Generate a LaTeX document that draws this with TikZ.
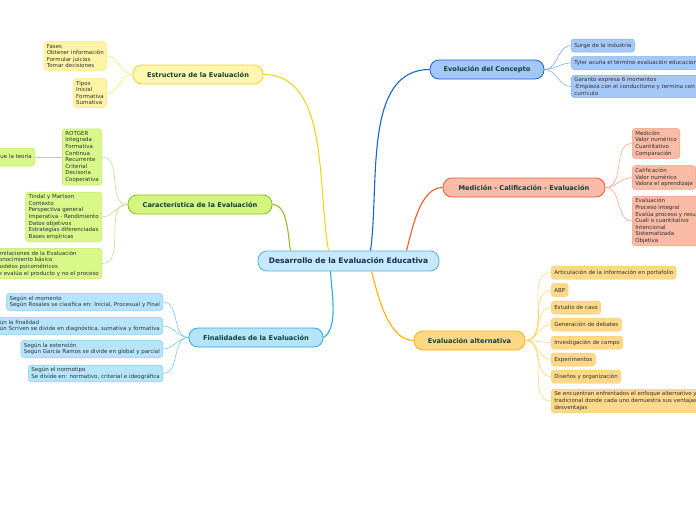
\documentclass[tikz,border=0pt]{standalone}
\usepackage{fontspec}
\setmainfont{DejaVu Sans}
\usetikzlibrary{positioning}

\definecolor{rootFill}{HTML}{C6E9FB}
\definecolor{rootDraw}{HTML}{5AAEE3}
\definecolor{rootText}{HTML}{1B2A4E}
\definecolor{branchText}{HTML}{123F3A}
\definecolor{leafText}{HTML}{303030}
% branch colours
\definecolor{estrFill}{HTML}{FFF6B0}
\definecolor{estrDraw}{HTML}{F0D51E}
\definecolor{estrLeaf}{HTML}{FFF3A6}
\definecolor{estrLeafDraw}{HTML}{FBE684}
\definecolor{caracFill}{HTML}{D4F57F}
\definecolor{caracDraw}{HTML}{8CC21E}
\definecolor{caracLeaf}{HTML}{D8F88A}
\definecolor{caracLeafDraw}{HTML}{BEEA66}
\definecolor{finalFill}{HTML}{B3E4FA}
\definecolor{finalDraw}{HTML}{2AAAE8}
\definecolor{finalLeaf}{HTML}{B6E5FB}
\definecolor{finalLeafDraw}{HTML}{7ECDF2}
\definecolor{evolFill}{HTML}{A3C8F8}
\definecolor{evolDraw}{HTML}{1664D6}
\definecolor{evolLeaf}{HTML}{A6C8F8}
\definecolor{evolLeafDraw}{HTML}{7AAEEF}
\definecolor{mediFill}{HTML}{F9BCA8}
\definecolor{mediDraw}{HTML}{F05A28}
\definecolor{mediLeaf}{HTML}{F9BBA6}
\definecolor{mediLeafDraw}{HTML}{F5A083}
\definecolor{altFill}{HTML}{FFD887}
\definecolor{altDraw}{HTML}{FFB300}
\definecolor{altLeaf}{HTML}{FFD98A}
\definecolor{altLeafDraw}{HTML}{FFCB62}

\begin{document}
\begin{tikzpicture}[
    x=1pt, y=1pt,
    root/.style={rectangle, rounded corners=9pt, draw=rootDraw, fill=rootFill, line width=0.8pt, minimum height=20pt, minimum width=181pt, inner xsep=3pt, font=\fontsize{7.5}{8}\selectfont\bfseries, text=rootText},
    branch/.style={rectangle, rounded corners=9pt, line width=0.8pt, minimum height=19pt, inner xsep=3pt, font=\fontsize{6.6}{7}\selectfont\bfseries, text=branchText},
    leaf/.style={rectangle, rounded corners=3pt, line width=0.5pt, inner xsep=3pt, inner ysep=2.4pt, minimum height=13pt, align=left, font=\fontsize{5.5}{6.6}\selectfont, text=leafText},
    estrbox/.style={branch, fill=estrFill, draw=estrDraw},
    estrleaf/.style={leaf, fill=estrLeaf, draw=estrLeafDraw},
    caracbox/.style={branch, fill=caracFill, draw=caracDraw},
    caracleaf/.style={leaf, fill=caracLeaf, draw=caracLeafDraw},
    finalbox/.style={branch, fill=finalFill, draw=finalDraw},
    finalleaf/.style={leaf, fill=finalLeaf, draw=finalLeafDraw},
    evolbox/.style={branch, fill=evolFill, draw=evolDraw},
    evolleaf/.style={leaf, fill=evolLeaf, draw=evolLeafDraw},
    medibox/.style={branch, fill=mediFill, draw=mediDraw},
    medileaf/.style={leaf, fill=mediLeaf, draw=mediLeafDraw},
    altbox/.style={branch, fill=altFill, draw=altDraw},
    altleaf/.style={leaf, fill=altLeaf, draw=altLeafDraw},
    mainline/.style={line width=1.1pt},
    leafline/.style={line width=0.5pt}
]
\useasboundingbox (0,0) rectangle (696,-520);

% Central topic
\node[root] (root) at (348.5,-261) {Desarrollo de la Evaluación Educativa};

% Main branches
\node[estrbox, minimum width=130pt] (estr) at (198,-74.5) {Estructura de la Evaluación};
\node[caracbox, minimum width=144pt] (carac) at (200,-204.5) {Característica de la Evaluación};
\node[finalbox, minimum width=134pt] (final) at (256,-337.5) {Finalidades de la Evaluación};
\node[evolbox, minimum width=114pt] (evol) at (487,-69.5) {Evolución del Concepto};
\node[medibox, minimum width=162pt] (medi) at (524,-187.5) {Medición - Calificación - Evaluación};
\node[altbox, minimum width=111pt] (alt) at (469.5,-340.5) {Evaluación alternativa};

% Estructura
\node[estrleaf, anchor=east] (estrA) at (107,-56) {Fases\\Obtener información\\Formular juicios\\Tomar decisiones};
\node[estrleaf, anchor=east] (estrB) at (107,-93) {Tipos\\Inicial\\Formativa\\Sumativa};

% Caracteristica
\node[caracleaf, anchor=east] (caracA) at (102,-157) {ROTGER\\Integrada\\Formativa\\Continua\\Recurrente\\Criterial\\Decisoria\\Cooperativa};
\node[caracleaf, anchor=east, minimum height=18pt] (teoria) at (35,-157) {que la teoría};
\node[caracleaf, anchor=east] (caracB) at (102,-217) {Tindal y Martson\\Contexto\\Perspectiva general\\Imperativa - Rendimiento\\Datos objetivos\\Estrategias diferenciadas\\Bases empíricas};
\node[caracleaf, anchor=east] (caracC) at (102,-263.5) {Limitaciones de la Evaluación\\Conocimiento básico\\Modelos psicométricos\\Se evalúa el producto y no el proceso};

% Finalidades
\node[finalleaf, anchor=east] (finalA) at (163,-302) {Según el momento\\Según Rosales se clasifica en: Inicial, Procesual y Final};
\node[finalleaf, anchor=east] (finalB) at (163,-326) {Según la finalidad\\Según Scriven se divide en diagnóstica, sumativa y formativa};
\node[finalleaf, anchor=east] (finalC) at (163,-349) {Según la extensión\\Según García Ramos se divide en global y parcial};
\node[finalleaf, anchor=east] (finalD) at (163,-373.5) {Según el normotipo\\Se divide en: normativo, criterial e ideográfica};

% Evolucion
\node[evolleaf, anchor=west] (evolA) at (571,-45.5) {Surge de la industria};
\node[evolleaf, anchor=west] (evolB) at (571,-63) {Tyler acuña el término evaluación educacional};
\node[evolleaf, anchor=west] (evolC) at (571,-86.5) {Garanto expresa 6 momentos\\-Empieza con el conductismo y termina con el\\currículo};

% Medicion
\node[medileaf, anchor=west] (mediA) at (632,-143.5) {Medición\\Valor numérico\\Cuantitativo\\Comparación};
\node[medileaf, anchor=west] (mediB) at (632,-177.5) {Calificación\\Valor numérico\\Valora el aprendizaje};
\node[medileaf, anchor=west] (mediC) at (632,-221) {Evaluación\\Proceso integral\\Evalúa proceso y resultados\\Cuali o cuantitativo\\Intencional\\Sistematizada\\Objetiva};

% Evaluacion alternativa
\node[altleaf, anchor=west] (altA) at (551,-272.5) {Articulación de la información en portafolio};
\node[altleaf, anchor=west] (altB) at (551,-290) {ABP};
\node[altleaf, anchor=west] (altC) at (551,-307.5) {Estudio de caso};
\node[altleaf, anchor=west] (altD) at (551,-324.5) {Generación de debates};
\node[altleaf, anchor=west] (altE) at (551,-342.5) {Investigación de campo};
\node[altleaf, anchor=west] (altF) at (551,-359.5) {Experimentos};
\node[altleaf, anchor=west] (altG) at (551,-376.5) {Diseños y organización};
\node[altleaf, anchor=west] (altH) at (551,-401) {Se encuentran enfrentados el enfoque alternativo y\\tradicional donde cada uno demuestra sus ventajas y\\desventajas};

% Main connectors
\draw[mainline, draw=caracDraw] ([xshift=-58pt]root.north) to[out=100, in=0, looseness=0.8] (carac.east);
\draw[mainline, draw=estrDraw] ([xshift=-20pt]root.north) to[out=100, in=0, looseness=0.9] (estr.east);
\draw[mainline, draw=evolDraw] ([xshift=22pt]root.north) to[out=82, in=180, looseness=0.9] (evol.west);
\draw[mainline, draw=mediDraw] ([xshift=58pt]root.north) to[out=75, in=180, looseness=0.8] (medi.west);
\draw[mainline, draw=finalDraw] ([xshift=-18pt]root.south) to[out=-88, in=30, looseness=0.7] (final.east);
\draw[mainline, draw=altDraw] ([xshift=23pt]root.south) to[out=-75, in=180, looseness=0.8] (alt.west);

% Leaf connectors
\foreach \l in {estrA, estrB}
  \draw[leafline, draw=estrDraw!70] (estr.west) to[out=180, in=0] (\l.east);
\foreach \l in {caracA, caracB, caracC}
  \draw[leafline, draw=caracDraw!60] (carac.west) to[out=180, in=0] (\l.east);
\draw[leafline, draw=caracDraw!60] (caracA.west) -- (teoria.east);
\foreach \l in {finalA, finalB, finalC, finalD}
  \draw[leafline, draw=finalDraw!70] (final.west) to[out=180, in=0] (\l.east);
\foreach \l in {evolA, evolB, evolC}
  \draw[leafline, draw=evolDraw!60] (evol.east) to[out=0, in=180] (\l.west);
\foreach \l in {mediA, mediB, mediC}
  \draw[leafline, draw=mediDraw!60] (medi.east) to[out=0, in=180] (\l.west);
\foreach \l in {altA, altB, altC, altD, altE, altF, altG, altH}
  \draw[leafline, draw=altDraw!60] (alt.east) to[out=0, in=180] (\l.west);

\end{tikzpicture}
\end{document}
